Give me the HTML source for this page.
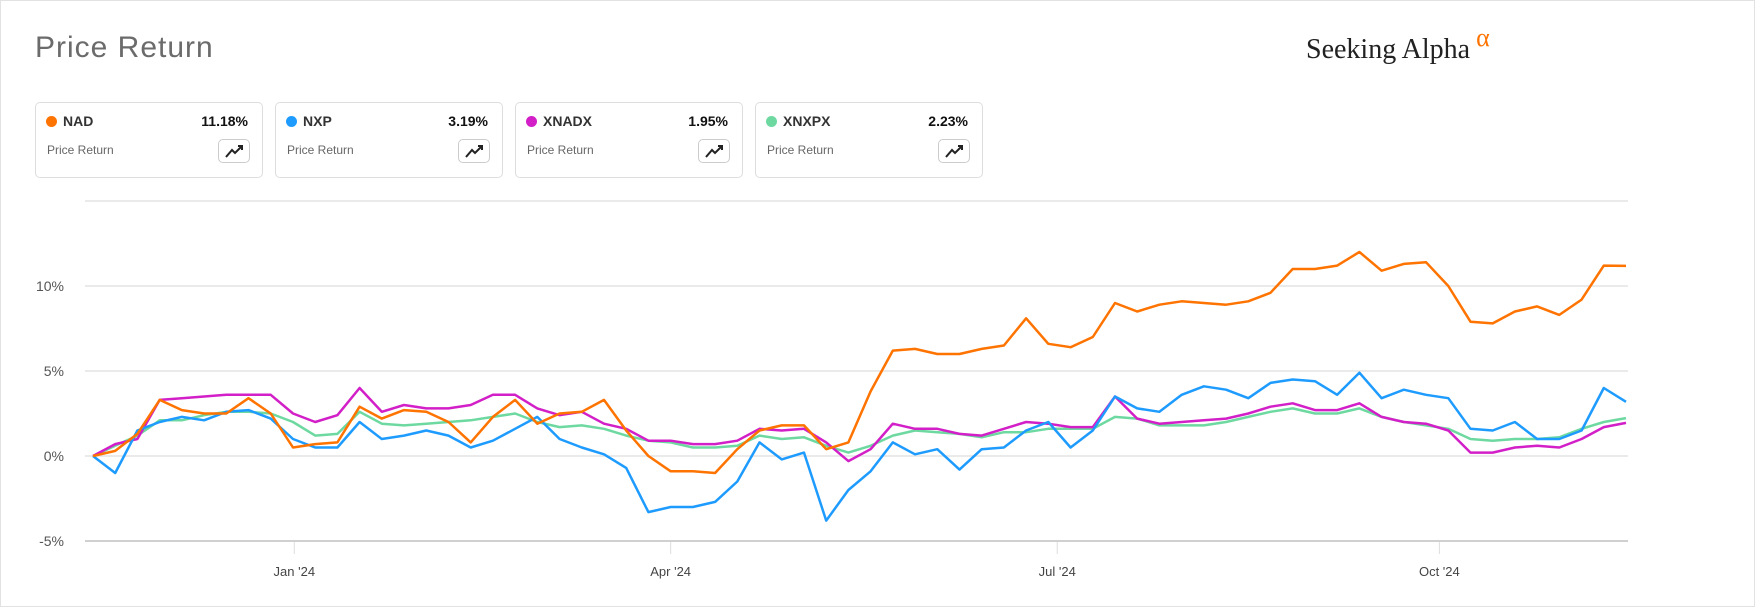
<!DOCTYPE html>
<html><head><meta charset="utf-8">
<style>
body{margin:0;background:#fff;font-family:"Liberation Sans",sans-serif;}
#wrap{position:relative;width:1753px;height:605px;border:1px solid #e2e2e2;overflow:hidden;}
.title{position:absolute;left:34px;top:30px;font-size:30px;color:#6b6b6b;letter-spacing:1px;}
.logo{position:absolute;left:1305px;top:33px;font-family:"Liberation Serif",serif;font-size:28px;color:#222;}
.logo span{color:#ff7300;font-size:26px;position:relative;top:-12px;left:6px;}
.card{position:absolute;top:101px;width:226px;height:74px;border:1px solid #ddd;border-radius:5px;}
.card .dot{position:absolute;left:10px;top:13px;width:11px;height:11px;border-radius:50%;}
.card .nm{position:absolute;left:27px;top:10px;font-size:14px;font-weight:bold;color:#333;}
.card .vl{position:absolute;right:14px;top:10px;font-size:14px;font-weight:bold;color:#111;}
.card .pr{position:absolute;left:11px;top:40px;font-size:12px;color:#666;}
.card .ic{position:absolute;right:12px;top:36px;width:30px;height:22px;border:1px solid #ccc;border-radius:5px;}
</style></head><body>
<div id="wrap">
<div class="title">Price Return</div>
<div class="logo">Seeking Alpha<span>α</span></div>
<div class="card" style="left:34px"><div class="dot" style="background:#ff7300"></div><div class="nm">NAD</div><div class="vl">11.18%</div><div class="pr">Price Return</div><div class="ic"><svg width="30" height="22"><path d="M7 17 L13 10 L16 13 L23 6 M19 6 L23 6 L23 10" stroke="#222" stroke-width="2" fill="none"/></svg></div></div>
<div class="card" style="left:274px"><div class="dot" style="background:#1e9bff"></div><div class="nm">NXP</div><div class="vl">3.19%</div><div class="pr">Price Return</div><div class="ic"><svg width="30" height="22"><path d="M7 17 L13 10 L16 13 L23 6 M19 6 L23 6 L23 10" stroke="#222" stroke-width="2" fill="none"/></svg></div></div>
<div class="card" style="left:514px"><div class="dot" style="background:#d21fc7"></div><div class="nm">XNADX</div><div class="vl">1.95%</div><div class="pr">Price Return</div><div class="ic"><svg width="30" height="22"><path d="M7 17 L13 10 L16 13 L23 6 M19 6 L23 6 L23 10" stroke="#222" stroke-width="2" fill="none"/></svg></div></div>
<div class="card" style="left:754px"><div class="dot" style="background:#6dd9a0"></div><div class="nm">XNXPX</div><div class="vl">2.23%</div><div class="pr">Price Return</div><div class="ic"><svg width="30" height="22"><path d="M7 17 L13 10 L16 13 L23 6 M19 6 L23 6 L23 10" stroke="#222" stroke-width="2" fill="none"/></svg></div></div>
<svg id="chart" width="1753" height="605" style="position:absolute;left:0;top:0"></svg>
</div>
<script>
const yTicks=[15,10,5,0,-5];
const yTickLabels=["","10%","5%","0%","-5%"];
const xTickLabels=["Jan '24","Apr '24","Jul '24","Oct '24"];
const xTickIdx=[9.06,26.0,43.4,60.6];
const nad=[0,0.3,1.3,3.3,2.7,2.5,2.5,3.4,2.5,0.5,0.7,0.8,2.9,2.2,2.7,2.6,2.0,0.8,2.3,3.3,1.9,2.5,2.6,3.3,1.5,0.0,-0.9,-0.9,-1.0,0.4,1.5,1.8,1.8,0.4,0.8,3.8,6.2,6.3,6.0,6.0,6.3,6.5,8.1,6.6,6.4,7.0,9.0,8.5,8.9,9.1,9.0,8.9,9.1,9.6,11.0,11.0,11.2,12.0,10.9,11.3,11.4,10.0,7.9,7.8,8.5,8.8,8.3,9.2,11.2,11.18];
const nxp=[0,-1.0,1.5,2.0,2.3,2.1,2.6,2.7,2.2,1.0,0.5,0.5,2.0,1.0,1.2,1.5,1.2,0.5,0.9,1.6,2.3,1.0,0.5,0.1,-0.7,-3.3,-3.0,-3.0,-2.7,-1.5,0.8,-0.2,0.2,-3.8,-2.0,-0.9,0.8,0.1,0.4,-0.8,0.4,0.5,1.5,2.0,0.5,1.5,3.5,2.8,2.6,3.6,4.1,3.9,3.4,4.3,4.5,4.4,3.6,4.9,3.4,3.9,3.6,3.4,1.6,1.5,2.0,1.0,1.0,1.5,4.0,3.19];
const xnadx=[0,0.7,1.0,3.3,3.4,3.5,3.6,3.6,3.6,2.5,2.0,2.4,4.0,2.6,3.0,2.8,2.8,3.0,3.6,3.6,2.8,2.4,2.6,1.9,1.6,0.9,0.9,0.7,0.7,0.9,1.6,1.5,1.6,0.8,-0.3,0.4,1.9,1.6,1.6,1.3,1.2,1.6,2.0,1.9,1.7,1.7,3.5,2.2,1.9,2.0,2.1,2.2,2.5,2.9,3.1,2.7,2.7,3.1,2.3,2.0,1.9,1.5,0.2,0.2,0.5,0.6,0.5,1.0,1.7,1.95];
const xnxpx=[0,0.6,1.2,2.1,2.1,2.4,2.6,2.6,2.5,2.0,1.2,1.3,2.6,1.9,1.8,1.9,2.0,2.1,2.3,2.5,2.0,1.7,1.8,1.6,1.2,0.9,0.8,0.5,0.5,0.6,1.2,1.0,1.1,0.6,0.2,0.6,1.2,1.5,1.4,1.3,1.1,1.4,1.4,1.6,1.6,1.6,2.3,2.2,1.8,1.8,1.8,2.0,2.3,2.6,2.8,2.5,2.5,2.8,2.3,2.0,1.8,1.6,1.0,0.9,1.0,1.0,1.1,1.6,2.0,2.23];
const N=nad.length;
const X0=92,X1=1625;
function xs(i){return X0+i*(X1-X0)/(N-1);}
function ys(v){return 455-17*v;}
const svg=document.getElementById('chart');
const NS='http://www.w3.org/2000/svg';
function mk(t,a){const e=document.createElementNS(NS,t);for(const k in a)e.setAttribute(k,a[k]);svg.appendChild(e);return e;}
yTicks.forEach((t,j)=>{
 const g=mk('line',{x1:84,x2:1627,y1:ys(t),y2:ys(t),stroke:t===-5?'#d0d0d0':'#e3e3e3','stroke-width':t===-5?2:1.5});
 
 
 if(yTickLabels[j]){const tx=mk('text',{x:63,y:ys(t)+5,'text-anchor':'end','font-size':14,fill:'#555','font-family':'Liberation Sans, sans-serif'});tx.textContent=yTickLabels[j];
 
 }
});
xTickLabels.forEach((l,j)=>{
 const x=xs(xTickIdx[j]);
 const tk=mk('line',{x1:x,x2:x,y1:541,y2:553,stroke:'#ddd','stroke-width':1});
 
 
 const tx=mk('text',{x:x,y:575,'text-anchor':'middle','font-size':13,fill:'#444','font-family':'Liberation Sans, sans-serif'});tx.textContent=l;
 
 
});
[[xnxpx,'#6dd9a0','xnxpx-line'],[xnadx,'#d21fc7','xnadx-line'],[nxp,'#1e9bff','nxp-line'],[nad,'#ff7300','nad-line']].forEach(([d,c,n])=>{
 const p=mk('polyline',{points:d.map((v,i)=>xs(i).toFixed(1)+','+ys(v).toFixed(1)).join(' '),fill:'none',stroke:c,'stroke-width':2.5,'stroke-linejoin':'round'});
 
 
});
</script>
</body></html>
